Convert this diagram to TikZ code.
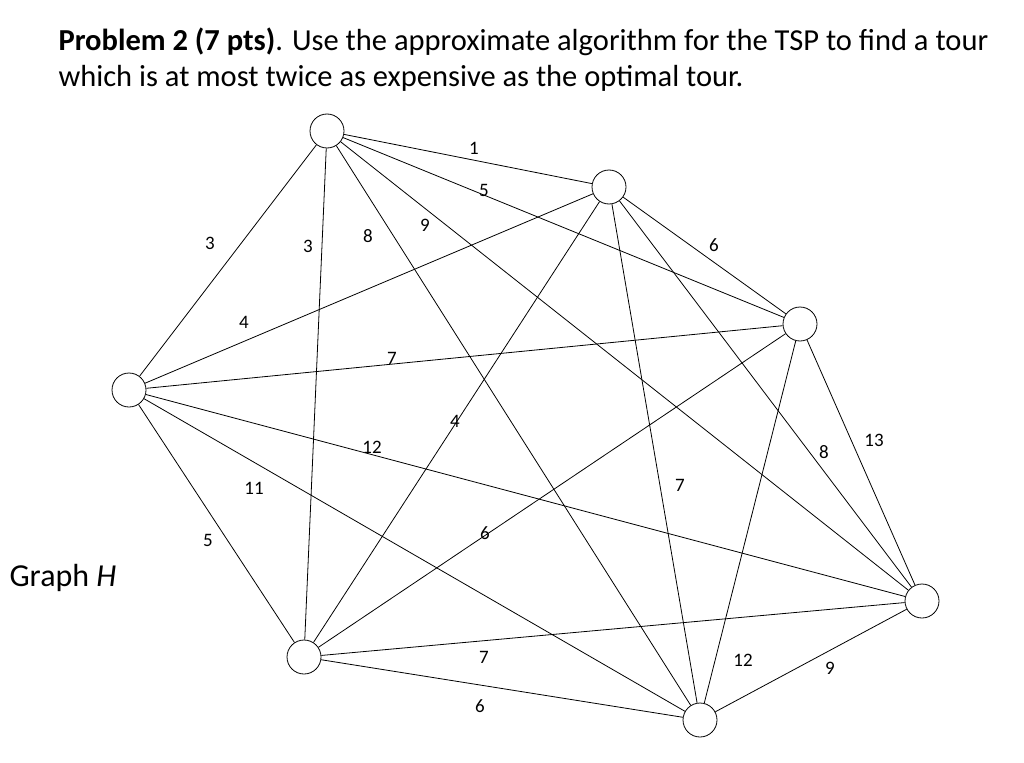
\documentclass[tikz,border=0pt]{standalone}
\usepackage{fontspec}
\setmainfont{Carlito}
\begin{document}
\begin{tikzpicture}[x=1pt,y=-1pt,
  vtx/.style={circle,draw,thick,minimum size=34pt,inner sep=0pt},
  edge/.style={draw,line width=0.8pt},
  lbl/.style={font=\fontsize{19}{21}\selectfont,inner sep=1pt}]
\useasboundingbox (0,0) rectangle (1024,762);
\node[anchor=west,align=left,font=\fontsize{30.5}{36}\selectfont] (t) at (55,60)
 {\textbf{Problem 2 (7 pts)}. Use the approximate algorithm for the TSP to find a tour\\which is at most twice as expensive as the optimal tour.};
\node[anchor=west,font=\fontsize{32}{36}\selectfont] (gh) at (6,578) {Graph \textit{H}};
\node[vtx] (A) at (327,131) {};
\node[vtx] (B) at (609,187) {};
\node[vtx] (C) at (800,324) {};
\node[vtx] (D) at (922,601) {};
\node[vtx] (E) at (700,720) {};
\node[vtx] (F) at (304,657) {};
\node[vtx] (G) at (129,390) {};
\foreach \a/\b in {A/B,A/C,A/D,A/E,A/F,A/G,B/C,B/D,B/E,B/F,B/G,C/D,C/E,C/F,C/G,D/E,D/F,D/G,E/F,E/G,F/G}
  \draw[edge] (\a) -- (\b);
\node[lbl] (l1) at (474,148) {1};
\node[lbl] (l2) at (484,190) {5};
\node[lbl] (l3) at (210,243) {3};
\node[lbl] (l4) at (308,246) {3};
\node[lbl] (l5) at (368,236) {8};
\node[lbl] (l6) at (425,225) {9};
\node[lbl] (l7) at (714,245) {6};
\node[lbl] (l8) at (244,322) {4};
\node[lbl] (l9) at (392,358) {7};
\node[lbl] (l10) at (455,421) {4};
\node[lbl] (l11) at (372,447) {12};
\node[lbl] (l12) at (254,488) {11};
\node[lbl] (l13) at (208,540) {5};
\node[lbl] (l14) at (485,533) {6};
\node[lbl] (l15) at (484,657) {7};
\node[lbl] (l16) at (480,706) {6};
\node[lbl] (l17) at (680,485) {7};
\node[lbl] (l18) at (743,660) {12};
\node[lbl] (l19) at (830,668) {9};
\node[lbl] (l20) at (824,452) {8};
\node[lbl] (l21) at (874,440) {13};
\end{tikzpicture}
\end{document}
